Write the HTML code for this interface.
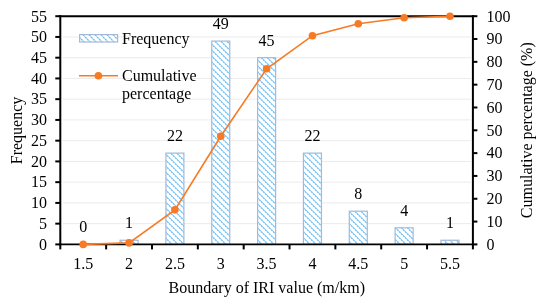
<!DOCTYPE html><html><head><meta charset="utf-8"><style>html,body{margin:0;padding:0;background:#fff;}svg{display:block;}text{font-family:"Liberation Serif","Times New Roman",serif;font-size:16px;fill:#000;}</style></head><body>
<svg width="550" height="304" viewBox="0 0 550 304">
<defs><pattern id="h" patternUnits="userSpaceOnUse" width="6" height="6"><path d="M-1,-6.60 L7,1.40 M-1,-0.60 L7,7.40 M-1,5.40 L7,13.40" stroke="#6bbcf3" stroke-width="1.3" stroke-dasharray="2.2 0.63" stroke-dashoffset="0"/></pattern><pattern id="h2" patternUnits="userSpaceOnUse" width="6" height="6"><path d="M-1,-1.10 L7,6.90 M-1,4.90 L7,12.90 M-1,10.90 L7,18.90" stroke="#6bbcf3" stroke-width="1.3" stroke-dasharray="2.2 0.63" stroke-dashoffset="0"/></pattern></defs>
<rect x="0" y="0" width="550" height="304" fill="#fff"/>
<line x1="62.8" y1="223.65" x2="470.9" y2="223.65" stroke="#ebebeb" stroke-width="1"/>
<line x1="62.8" y1="202.91" x2="470.9" y2="202.91" stroke="#ebebeb" stroke-width="1"/>
<line x1="62.8" y1="182.16" x2="470.9" y2="182.16" stroke="#ebebeb" stroke-width="1"/>
<line x1="62.8" y1="161.42" x2="470.9" y2="161.42" stroke="#ebebeb" stroke-width="1"/>
<line x1="62.8" y1="140.67" x2="470.9" y2="140.67" stroke="#ebebeb" stroke-width="1"/>
<line x1="62.8" y1="119.93" x2="470.9" y2="119.93" stroke="#ebebeb" stroke-width="1"/>
<line x1="62.8" y1="99.18" x2="470.9" y2="99.18" stroke="#ebebeb" stroke-width="1"/>
<line x1="62.8" y1="78.44" x2="470.9" y2="78.44" stroke="#ebebeb" stroke-width="1"/>
<line x1="62.8" y1="57.69" x2="470.9" y2="57.69" stroke="#ebebeb" stroke-width="1"/>
<line x1="62.8" y1="36.95" x2="470.9" y2="36.95" stroke="#ebebeb" stroke-width="1"/>
<rect x="120.07" y="240.25" width="18.00" height="4.15" fill="#fff"/>
<rect x="120.07" y="240.25" width="18.00" height="4.15" fill="url(#h)" stroke="#a3b9d8" stroke-width="1.2"/>
<rect x="165.91" y="153.12" width="18.00" height="91.28" fill="#fff"/>
<rect x="165.91" y="153.12" width="18.00" height="91.28" fill="url(#h)" stroke="#a3b9d8" stroke-width="1.2"/>
<rect x="211.76" y="41.09" width="18.00" height="203.31" fill="#fff"/>
<rect x="211.76" y="41.09" width="18.00" height="203.31" fill="url(#h)" stroke="#a3b9d8" stroke-width="1.2"/>
<rect x="257.60" y="57.69" width="18.00" height="186.71" fill="#fff"/>
<rect x="257.60" y="57.69" width="18.00" height="186.71" fill="url(#h)" stroke="#a3b9d8" stroke-width="1.2"/>
<rect x="303.44" y="153.12" width="18.00" height="91.28" fill="#fff"/>
<rect x="303.44" y="153.12" width="18.00" height="91.28" fill="url(#h)" stroke="#a3b9d8" stroke-width="1.2"/>
<rect x="349.29" y="211.21" width="18.00" height="33.19" fill="#fff"/>
<rect x="349.29" y="211.21" width="18.00" height="33.19" fill="url(#h)" stroke="#a3b9d8" stroke-width="1.2"/>
<rect x="395.13" y="227.80" width="18.00" height="16.60" fill="#fff"/>
<rect x="395.13" y="227.80" width="18.00" height="16.60" fill="url(#h)" stroke="#a3b9d8" stroke-width="1.2"/>
<rect x="440.98" y="240.25" width="18.00" height="4.15" fill="#fff"/>
<rect x="440.98" y="240.25" width="18.00" height="4.15" fill="url(#h)" stroke="#a3b9d8" stroke-width="1.2"/>
<line x1="60.30" y1="15.20" x2="60.30" y2="245.40" stroke="#000" stroke-width="2"/>
<line x1="472.90" y1="15.20" x2="472.90" y2="245.40" stroke="#000" stroke-width="2"/>
<line x1="59.30" y1="16.20" x2="473.90" y2="16.20" stroke="#000" stroke-width="2"/>
<line x1="59.30" y1="244.40" x2="473.90" y2="244.40" stroke="#000" stroke-width="1.8"/>
<line x1="55.30" y1="244.40" x2="60.30" y2="244.40" stroke="#000" stroke-width="2"/>
<text x="47" y="249.70" text-anchor="end">0</text>
<line x1="55.30" y1="223.65" x2="60.30" y2="223.65" stroke="#000" stroke-width="2"/>
<text x="47" y="228.95" text-anchor="end">5</text>
<line x1="55.30" y1="202.91" x2="60.30" y2="202.91" stroke="#000" stroke-width="2"/>
<text x="47" y="208.21" text-anchor="end">10</text>
<line x1="55.30" y1="182.16" x2="60.30" y2="182.16" stroke="#000" stroke-width="2"/>
<text x="47" y="187.46" text-anchor="end">15</text>
<line x1="55.30" y1="161.42" x2="60.30" y2="161.42" stroke="#000" stroke-width="2"/>
<text x="47" y="166.72" text-anchor="end">20</text>
<line x1="55.30" y1="140.67" x2="60.30" y2="140.67" stroke="#000" stroke-width="2"/>
<text x="47" y="145.97" text-anchor="end">25</text>
<line x1="55.30" y1="119.93" x2="60.30" y2="119.93" stroke="#000" stroke-width="2"/>
<text x="47" y="125.23" text-anchor="end">30</text>
<line x1="55.30" y1="99.18" x2="60.30" y2="99.18" stroke="#000" stroke-width="2"/>
<text x="47" y="104.48" text-anchor="end">35</text>
<line x1="55.30" y1="78.44" x2="60.30" y2="78.44" stroke="#000" stroke-width="2"/>
<text x="47" y="83.74" text-anchor="end">40</text>
<line x1="55.30" y1="57.69" x2="60.30" y2="57.69" stroke="#000" stroke-width="2"/>
<text x="47" y="62.99" text-anchor="end">45</text>
<line x1="55.30" y1="36.95" x2="60.30" y2="36.95" stroke="#000" stroke-width="2"/>
<text x="47" y="42.25" text-anchor="end">50</text>
<line x1="55.30" y1="16.20" x2="60.30" y2="16.20" stroke="#000" stroke-width="2"/>
<text x="47" y="21.50" text-anchor="end">55</text>
<line x1="472.90" y1="244.40" x2="477.40" y2="244.40" stroke="#000" stroke-width="2"/>
<text x="486.5" y="249.70">0</text>
<line x1="472.90" y1="221.58" x2="477.40" y2="221.58" stroke="#000" stroke-width="2"/>
<text x="486.5" y="226.88">10</text>
<line x1="472.90" y1="198.76" x2="477.40" y2="198.76" stroke="#000" stroke-width="2"/>
<text x="486.5" y="204.06">20</text>
<line x1="472.90" y1="175.94" x2="477.40" y2="175.94" stroke="#000" stroke-width="2"/>
<text x="486.5" y="181.24">30</text>
<line x1="472.90" y1="153.12" x2="477.40" y2="153.12" stroke="#000" stroke-width="2"/>
<text x="486.5" y="158.42">40</text>
<line x1="472.90" y1="130.30" x2="477.40" y2="130.30" stroke="#000" stroke-width="2"/>
<text x="486.5" y="135.60">50</text>
<line x1="472.90" y1="107.48" x2="477.40" y2="107.48" stroke="#000" stroke-width="2"/>
<text x="486.5" y="112.78">60</text>
<line x1="472.90" y1="84.66" x2="477.40" y2="84.66" stroke="#000" stroke-width="2"/>
<text x="486.5" y="89.96">70</text>
<line x1="472.90" y1="61.84" x2="477.40" y2="61.84" stroke="#000" stroke-width="2"/>
<text x="486.5" y="67.14">80</text>
<line x1="472.90" y1="39.02" x2="477.40" y2="39.02" stroke="#000" stroke-width="2"/>
<text x="486.5" y="44.32">90</text>
<line x1="472.90" y1="16.20" x2="477.40" y2="16.20" stroke="#000" stroke-width="2"/>
<text x="486.5" y="21.50">100</text>
<line x1="60.30" y1="244.40" x2="60.30" y2="249.40" stroke="#000" stroke-width="2"/>
<line x1="106.14" y1="244.40" x2="106.14" y2="249.40" stroke="#000" stroke-width="2"/>
<line x1="151.99" y1="244.40" x2="151.99" y2="249.40" stroke="#000" stroke-width="2"/>
<line x1="197.83" y1="244.40" x2="197.83" y2="249.40" stroke="#000" stroke-width="2"/>
<line x1="243.68" y1="244.40" x2="243.68" y2="249.40" stroke="#000" stroke-width="2"/>
<line x1="289.52" y1="244.40" x2="289.52" y2="249.40" stroke="#000" stroke-width="2"/>
<line x1="335.37" y1="244.40" x2="335.37" y2="249.40" stroke="#000" stroke-width="2"/>
<line x1="381.21" y1="244.40" x2="381.21" y2="249.40" stroke="#000" stroke-width="2"/>
<line x1="427.06" y1="244.40" x2="427.06" y2="249.40" stroke="#000" stroke-width="2"/>
<line x1="472.90" y1="244.40" x2="472.90" y2="249.40" stroke="#000" stroke-width="2"/>
<text x="83.22" y="268.6" text-anchor="middle">1.5</text>
<text x="129.07" y="268.6" text-anchor="middle">2</text>
<text x="174.91" y="268.6" text-anchor="middle">2.5</text>
<text x="220.76" y="268.6" text-anchor="middle">3</text>
<text x="266.60" y="268.6" text-anchor="middle">3.5</text>
<text x="312.44" y="268.6" text-anchor="middle">4</text>
<text x="358.29" y="268.6" text-anchor="middle">4.5</text>
<text x="404.13" y="268.6" text-anchor="middle">5</text>
<text x="449.98" y="268.6" text-anchor="middle">5.5</text>
<text x="83.22" y="232.40" text-anchor="middle">0</text>
<text x="129.07" y="228.25" text-anchor="middle">1</text>
<text x="174.91" y="141.12" text-anchor="middle">22</text>
<text x="220.76" y="29.09" text-anchor="middle">49</text>
<text x="266.60" y="45.69" text-anchor="middle">45</text>
<text x="312.44" y="141.12" text-anchor="middle">22</text>
<text x="358.29" y="199.21" text-anchor="middle">8</text>
<text x="404.13" y="215.80" text-anchor="middle">4</text>
<text x="449.98" y="228.25" text-anchor="middle">1</text>
<polyline points="83.22,244.40 129.07,242.90 174.91,209.87 220.76,136.31 266.60,68.75 312.44,35.72 358.29,23.71 404.13,17.70 449.98,16.20" fill="none" stroke="#f77a24" stroke-width="1.6"/>
<circle cx="83.22" cy="244.40" r="3.8" fill="#f77a24"/>
<circle cx="129.07" cy="242.90" r="3.8" fill="#f77a24"/>
<circle cx="174.91" cy="209.87" r="3.8" fill="#f77a24"/>
<circle cx="220.76" cy="136.31" r="3.8" fill="#f77a24"/>
<circle cx="266.60" cy="68.75" r="3.8" fill="#f77a24"/>
<circle cx="312.44" cy="35.72" r="3.8" fill="#f77a24"/>
<circle cx="358.29" cy="23.71" r="3.8" fill="#f77a24"/>
<circle cx="404.13" cy="17.70" r="3.8" fill="#f77a24"/>
<circle cx="449.98" cy="16.20" r="3.8" fill="#f77a24"/>
<rect x="79.6" y="34.6" width="38" height="7.4" fill="#fff"/>
<rect x="79.6" y="34.6" width="38" height="7.4" fill="url(#h2)" stroke="#a3b9d8" stroke-width="1.2"/>
<text x="122" y="43.9">Frequency</text>
<line x1="79" y1="75.8" x2="118" y2="75.8" stroke="#f77a24" stroke-width="1.6"/>
<circle cx="98.4" cy="75.8" r="3.8" fill="#f77a24"/>
<text x="122" y="80.5">Cumulative</text>
<text x="122" y="98.6">percentage</text>
<text x="266.8" y="292.7" text-anchor="middle">Boundary of IRI value (m/km)</text>
<text transform="translate(22.2,130.5) rotate(-90)" text-anchor="middle">Frequency</text>
<text transform="translate(532,130.2) rotate(-90)" text-anchor="middle">Cumulative percentage (%)</text>
</svg></body></html>
